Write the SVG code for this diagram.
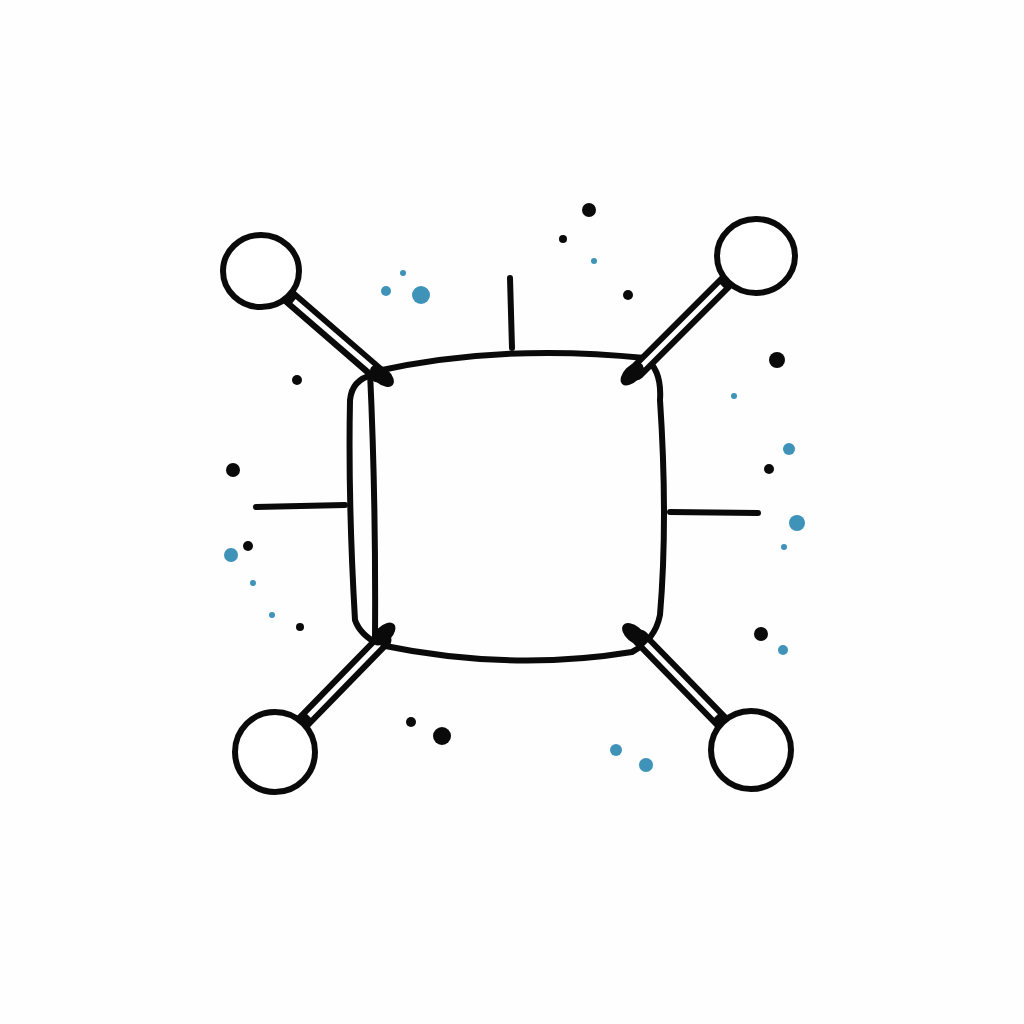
<svg xmlns="http://www.w3.org/2000/svg" width="1024" height="1024" viewBox="0 0 1024 1024">
<style>
.ln{fill:none;stroke:#0a0a0a;stroke-width:6;stroke-linecap:round;stroke-linejoin:round}
.node{fill:#fff;stroke:#0a0a0a;stroke-width:6}
.stickO{stroke:#0a0a0a;stroke-width:17;stroke-linecap:round}
.stickI{stroke:#fff;stroke-width:5;stroke-linecap:butt}
.bk{fill:#0a0a0a}
.bl{fill:#3f93b9}
</style>
<rect width="1024" height="1024" fill="#fdfefd"/>
<g id="body">
<path class="ln" d="M372,372 Q500,343 645,358 Q662,370 660,400 Q668,520 660,615 Q655,640 632,652 Q510,672 380,645 Q360,635 355,620 Q348,500 350,400 Q352,380 372,375"/>
<path class="ln" d="M370,372 Q376,500 375,640"/>
<line class="ln" x1="510" y1="278" x2="512" y2="348"/>
<line class="ln" x1="256" y1="507" x2="345" y2="505"/>
<line class="ln" x1="670" y1="512" x2="758" y2="513"/>
</g>
<g id="connectors">
<line class="stickO" x1="288" y1="296" x2="378" y2="374"/>
<line class="stickI" x1="294" y1="301" x2="374" y2="370"/>
<line class="stickO" x1="728" y1="280" x2="636" y2="372"/>
<line class="stickI" x1="722" y1="286" x2="642" y2="366"/>
<line class="stickO" x1="303" y1="722" x2="383" y2="640"/>
<line class="stickI" x1="309" y1="716" x2="379" y2="644"/>
<line class="stickO" x1="722" y1="722" x2="640" y2="638"/>
<line class="stickI" x1="716" y1="716" x2="646" y2="644"/>
<ellipse class="bk" cx="382" cy="376" rx="14" ry="8" transform="rotate(40 382 376)"/>
<ellipse class="bk" cx="632" cy="374" rx="14" ry="8" transform="rotate(-45 632 374)"/>
<ellipse class="bk" cx="384" cy="634" rx="14" ry="8" transform="rotate(-45 384 634)"/>
<ellipse class="bk" cx="634" cy="634" rx="14" ry="8" transform="rotate(40 634 634)"/>
</g>
<g id="node-tl"><ellipse class="node" cx="261" cy="271" rx="38" ry="36"/></g>
<g id="node-tr"><ellipse class="node" cx="756" cy="256" rx="39" ry="37"/></g>
<g id="node-bl"><ellipse class="node" cx="275" cy="752" rx="40" ry="40"/></g>
<g id="node-br"><ellipse class="node" cx="751" cy="750" rx="40" ry="39"/></g>
<g id="dots">
<circle class="bk" cx="589" cy="210" r="7"/>
<circle class="bk" cx="563" cy="239" r="4"/>
<circle class="bk" cx="628" cy="295" r="5"/>
<circle class="bk" cx="777" cy="360" r="8"/>
<circle class="bk" cx="297" cy="380" r="5"/>
<circle class="bk" cx="233" cy="470" r="7"/>
<circle class="bk" cx="248" cy="546" r="5"/>
<circle class="bk" cx="300" cy="627" r="4"/>
<circle class="bk" cx="769" cy="469" r="5"/>
<circle class="bk" cx="761" cy="634" r="7"/>
<circle class="bk" cx="411" cy="722" r="5"/>
<circle class="bk" cx="442" cy="736" r="9"/>
<circle class="bl" cx="403" cy="273" r="3"/>
<circle class="bl" cx="386" cy="291" r="5"/>
<circle class="bl" cx="421" cy="295" r="9"/>
<circle class="bl" cx="594" cy="261" r="3"/>
<circle class="bl" cx="734" cy="396" r="3"/>
<circle class="bl" cx="789" cy="449" r="6"/>
<circle class="bl" cx="797" cy="523" r="8"/>
<circle class="bl" cx="784" cy="547" r="3"/>
<circle class="bl" cx="231" cy="555" r="7"/>
<circle class="bl" cx="253" cy="583" r="3"/>
<circle class="bl" cx="272" cy="615" r="3"/>
<circle class="bl" cx="783" cy="650" r="5"/>
<circle class="bl" cx="616" cy="750" r="6"/>
<circle class="bl" cx="646" cy="765" r="7"/>
</g>
</svg>
